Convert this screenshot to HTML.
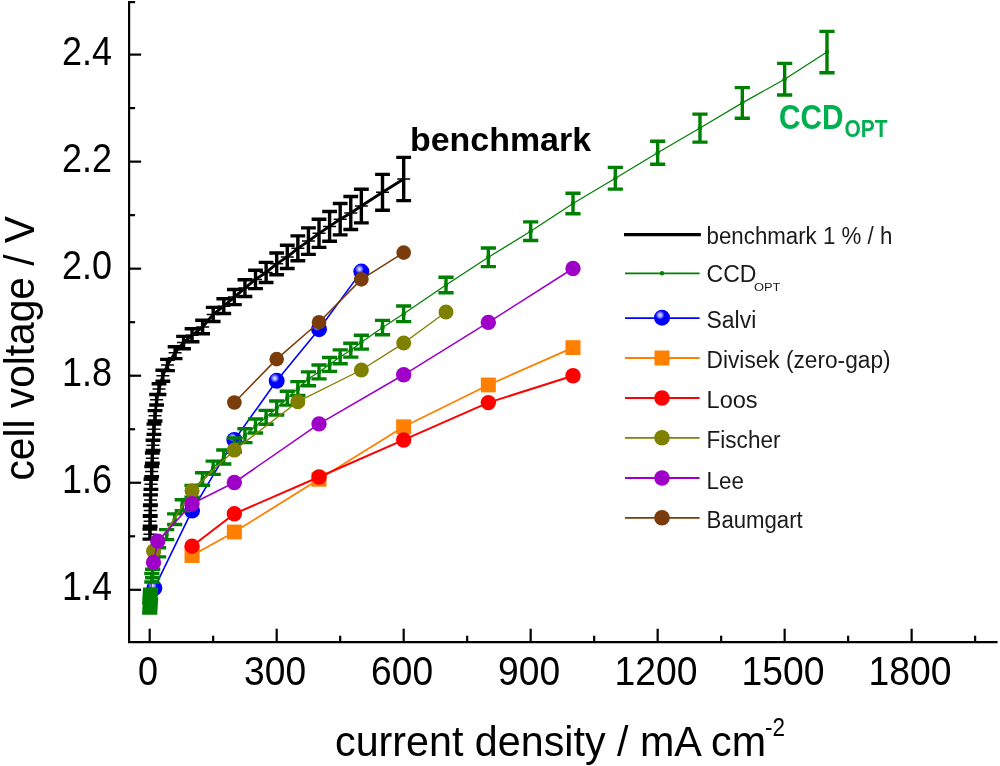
<!DOCTYPE html>
<html><head><meta charset="utf-8"><title>cell voltage vs current density</title>
<style>html,body{margin:0;padding:0;background:#fff;}svg{display:block;}</style></head>
<body><svg width="1000" height="766" viewBox="0 0 1000 766">
<defs><radialGradient id="sph" cx="0.38" cy="0.34" r="0.62"><stop offset="0" stop-color="#f0f0ff"/><stop offset="0.22" stop-color="#9090ff"/><stop offset="0.45" stop-color="#0000ff"/><stop offset="1" stop-color="#0000ff"/></radialGradient></defs>
<rect width="1000" height="766" fill="#fff"/>
<g stroke="#000" stroke-width="2.2" fill="none" stroke-linecap="square">
<path d="M129.1 2.2 V642.2 H996.5"/>
<path d="M129.1 589.80 h12" stroke-linecap="butt"/>
<path d="M129.1 536.28 h6" stroke-linecap="butt"/>
<path d="M129.1 482.76 h12" stroke-linecap="butt"/>
<path d="M129.1 429.24 h6" stroke-linecap="butt"/>
<path d="M129.1 375.72 h12" stroke-linecap="butt"/>
<path d="M129.1 322.20 h6" stroke-linecap="butt"/>
<path d="M129.1 268.68 h12" stroke-linecap="butt"/>
<path d="M129.1 215.16 h6" stroke-linecap="butt"/>
<path d="M129.1 161.64 h12" stroke-linecap="butt"/>
<path d="M129.1 108.12 h6" stroke-linecap="butt"/>
<path d="M129.1 54.60 h12" stroke-linecap="butt"/>
<path d="M129.1 2.10 h6" stroke-linecap="butt"/>
<path d="M149.70 642.2 v-13.5" stroke-linecap="butt"/>
<path d="M213.19 642.2 v-6.5" stroke-linecap="butt"/>
<path d="M276.69 642.2 v-13.5" stroke-linecap="butt"/>
<path d="M340.19 642.2 v-6.5" stroke-linecap="butt"/>
<path d="M403.68 642.2 v-13.5" stroke-linecap="butt"/>
<path d="M467.18 642.2 v-6.5" stroke-linecap="butt"/>
<path d="M530.67 642.2 v-13.5" stroke-linecap="butt"/>
<path d="M594.16 642.2 v-6.5" stroke-linecap="butt"/>
<path d="M657.66 642.2 v-13.5" stroke-linecap="butt"/>
<path d="M721.15 642.2 v-6.5" stroke-linecap="butt"/>
<path d="M784.65 642.2 v-13.5" stroke-linecap="butt"/>
<path d="M848.14 642.2 v-6.5" stroke-linecap="butt"/>
<path d="M911.64 642.2 v-13.5" stroke-linecap="butt"/>
<path d="M975.13 642.2 v-6.5" stroke-linecap="butt"/>
</g>
<g font-family="'Liberation Sans', Arial, sans-serif" font-size="40" fill="#000">
<text x="112" y="600.10" text-anchor="end" textLength="50" lengthAdjust="spacingAndGlyphs">1.4</text>
<text x="112" y="493.06" text-anchor="end" textLength="50" lengthAdjust="spacingAndGlyphs">1.6</text>
<text x="112" y="386.02" text-anchor="end" textLength="50" lengthAdjust="spacingAndGlyphs">1.8</text>
<text x="112" y="278.98" text-anchor="end" textLength="50" lengthAdjust="spacingAndGlyphs">2.0</text>
<text x="112" y="171.94" text-anchor="end" textLength="50" lengthAdjust="spacingAndGlyphs">2.2</text>
<text x="112" y="64.90" text-anchor="end" textLength="50" lengthAdjust="spacingAndGlyphs">2.4</text>
<text x="148.10" y="684.5" text-anchor="middle" textLength="20" lengthAdjust="spacingAndGlyphs">0</text>
<text x="275.09" y="684.5" text-anchor="middle" textLength="62" lengthAdjust="spacingAndGlyphs">300</text>
<text x="402.08" y="684.5" text-anchor="middle" textLength="62" lengthAdjust="spacingAndGlyphs">600</text>
<text x="529.07" y="684.5" text-anchor="middle" textLength="62" lengthAdjust="spacingAndGlyphs">900</text>
<text x="656.06" y="684.5" text-anchor="middle" textLength="83" lengthAdjust="spacingAndGlyphs">1200</text>
<text x="783.05" y="684.5" text-anchor="middle" textLength="83" lengthAdjust="spacingAndGlyphs">1500</text>
<text x="910.04" y="684.5" text-anchor="middle" textLength="83" lengthAdjust="spacingAndGlyphs">1800</text>
</g>
<text font-family="'Liberation Sans', Arial, sans-serif" font-size="42" fill="#000" transform="translate(34.2 480.5) rotate(-90)" textLength="264.5" lengthAdjust="spacingAndGlyphs">cell voltage / V</text>
<text font-family="'Liberation Sans', Arial, sans-serif" font-size="42.5" fill="#000" x="335" y="756.3" textLength="431" lengthAdjust="spacingAndGlyphs">current density / mA cm</text>
<text font-family="'Liberation Sans', Arial, sans-serif" font-size="25" fill="#000" x="765" y="735.5" textLength="20" lengthAdjust="spacingAndGlyphs">-2</text>
<path d="M149.91 534.14 L150.12 521.29 L150.29 510.59 L150.50 499.89 L150.97 484.37 L151.69 471.52 L152.32 458.14 L153.00 445.30 L153.93 429.24 L155.03 415.86 L156.60 399.80 L159.01 389.10 L162.82 375.72 L167.48 365.02 L175.10 352.71 L183.56 342.54 L192.03 335.31 L202.61 327.02 L213.19 314.39 L223.78 306.14 L234.36 297.05 L244.94 288.11 L255.52 279.38 L266.11 272.43 L276.69 263.86 L287.27 256.91 L297.86 248.34 L308.44 241.12 L319.02 233.36 L329.60 226.40 L340.19 219.17 L350.77 213.02 L361.35 206.06 L382.51 192.31 L403.68 178.98" fill="none" stroke="#000" stroke-width="2.9" stroke-linejoin="round"/>
<path d="M149.91 529.13V539.15M142.51 529.13H157.31M142.51 539.15H157.31M150.12 516.28V526.31M142.72 516.28H157.52M142.72 526.31H157.52M150.29 505.57V515.61M142.89 505.57H157.69M142.89 515.61H157.69M150.50 494.86V504.91M143.10 494.86H157.90M143.10 504.91H157.90M150.97 479.32V489.41M143.57 479.32H158.37M143.57 489.41H158.37M151.69 466.45V476.59M144.29 466.45H159.09M144.29 476.59H159.09M152.32 453.05V463.23M144.92 453.05H159.72M144.92 463.23H159.72M153.00 440.18V450.41M145.60 440.18H160.40M145.60 450.41H160.40M153.93 424.09V434.39M146.53 424.09H161.33M146.53 434.39H161.33M155.03 410.67V421.05M147.63 410.67H162.43M147.63 421.05H162.43M156.60 394.56V405.05M149.20 394.56H164.00M149.20 405.05H164.00M159.01 383.77V394.43M151.61 383.77H166.41M151.61 394.43H166.41M162.82 370.25V381.18M155.42 370.25H170.22M155.42 381.18H170.22M167.48 359.39V370.65M160.08 359.39H174.88M160.08 370.65H174.88M175.10 346.81V358.61M167.70 346.81H182.50M167.70 358.61H182.50M183.56 336.34V348.74M176.16 336.34H190.96M176.16 348.74H190.96M192.03 328.81V341.81M184.63 328.81H199.43M184.63 341.81H199.43M202.61 320.24V333.79M195.21 320.24H210.01M195.21 333.79H210.01M213.19 307.34V321.44M205.79 307.34H220.59M205.79 321.44H220.59M223.78 298.82V313.47M216.38 298.82H231.18M216.38 313.47H231.18M234.36 289.45V304.65M226.96 289.45H241.76M226.96 304.65H241.76M244.94 279.71V296.51M237.54 279.71H252.34M237.54 296.51H252.34M255.52 270.18V288.58M248.12 270.18H262.92M248.12 288.58H262.92M266.11 262.42V282.44M258.71 262.42H273.51M258.71 282.44H273.51M276.69 253.04V274.69M269.29 253.04H284.09M269.29 274.69H284.09M287.27 245.27V268.54M279.87 245.27H294.67M279.87 268.54H294.67M297.86 235.90V260.79M290.46 235.90H305.25M290.46 260.79H305.25M308.44 227.86V254.37M301.04 227.86H315.84M301.04 254.37H315.84M319.02 219.29V247.42M311.62 219.29H326.42M311.62 247.42H326.42M329.60 211.52V241.28M322.20 211.52H337.00M322.20 241.28H337.00M340.19 203.49V234.86M332.79 203.49H347.58M332.79 234.86H347.58M350.77 196.52V229.52M343.37 196.52H358.17M343.37 229.52H358.17M361.35 189.26V222.86M353.95 189.26H368.75M353.95 222.86H368.75M382.51 174.36V210.26M375.12 174.36H389.91M375.12 210.26H389.91M403.68 157.33V200.63M396.28 157.33H411.08M396.28 200.63H411.08" fill="none" stroke="#000" stroke-width="3.4"/>
<path d="M143.41 534.14h13M143.62 521.29h13M143.79 510.59h13M144.00 499.89h13M144.47 484.37h13M145.19 471.52h13M145.82 458.14h13M146.50 445.30h13M147.43 429.24h13M148.53 415.86h13M150.10 399.80h13M152.51 389.10h13M156.32 375.72h13M160.98 365.02h13M168.60 352.71h13M177.06 342.54h13M185.53 335.31h13M196.11 327.02h13M206.69 314.39h13M217.28 306.14h13M227.86 297.05h13M238.44 288.11h13M249.02 279.38h13M259.61 272.43h13M270.19 263.86h13M280.77 256.91h13M291.36 248.34h13M301.94 241.12h13M312.52 233.36h13M323.10 226.40h13M333.69 219.17h13M344.27 213.02h13M354.85 206.06h13M376.01 192.31h13M397.18 178.98h13" stroke="#000" stroke-width="1.5"/>
<path d="M154.36 588.19 L192.03 510.59 L234.36 439.94 L276.69 380.80 L319.02 329.16 L361.35 271.62" fill="none" stroke="#0000FF" stroke-width="1.6" stroke-linejoin="round"/>
<circle cx="154.36" cy="588.19" r="8.0" fill="url(#sph)"/><circle cx="192.03" cy="510.59" r="8.0" fill="url(#sph)"/><circle cx="234.36" cy="439.94" r="8.0" fill="url(#sph)"/><circle cx="276.69" cy="380.80" r="8.0" fill="url(#sph)"/><circle cx="319.02" cy="329.16" r="8.0" fill="url(#sph)"/><circle cx="361.35" cy="271.62" r="8.0" fill="url(#sph)"/>
<path d="M149.70 608.00 L149.87 605.32 L150.04 602.38 L150.21 599.43 L150.38 596.76 L150.55 594.08 L151.82 577.76 L152.66 573.48 L158.59 552.34 L166.63 534.67 L174.67 519.15 L182.29 505.24 L192.03 491.32 L202.61 479.01 L213.19 467.77 L223.78 457.07 L234.36 445.03 L244.94 435.66 L255.52 426.03 L266.11 417.31 L276.69 407.99 L287.27 398.20 L297.86 388.56 L308.44 378.77 L319.02 371.97 L329.60 364.43 L340.19 356.77 L350.77 350.19 L361.35 342.22 L382.51 327.55 L403.68 313.80 L446.01 285.00 L488.34 257.28 L530.67 231.22 L573.00 203.49 L615.33 178.23 L657.66 152.81 L699.99 128.08 L742.32 102.88 L784.65 79.22 L826.98 52.03" fill="none" stroke="#008000" stroke-width="1.25" stroke-linejoin="round"/>
<path d="M149.70 603.00V613.00M142.10 603.00H157.30M142.10 613.00H157.30M149.87 600.32V610.32M142.27 600.32H157.47M142.27 610.32H157.47M150.04 597.38V607.38M142.44 597.38H157.64M142.44 607.38H157.64M150.21 594.43V604.43M142.61 594.43H157.81M142.61 604.43H157.81M150.38 591.76V601.76M142.78 591.76H157.98M142.78 601.76H157.98M150.55 589.08V599.08M142.95 589.08H158.15M142.95 599.08H158.15M151.82 573.56V581.96M144.22 573.56H159.42M144.22 581.96H159.42M152.66 569.28V577.68M145.06 569.28H160.26M145.06 577.68H160.26M158.59 547.81V556.86M150.99 547.81H166.19M150.99 556.86H166.19M166.63 529.67V539.67M159.03 529.67H174.23M159.03 539.67H174.23M174.67 513.87V524.44M167.07 513.87H182.27M167.07 524.44H182.27M182.29 499.69V510.79M174.69 499.69H189.89M174.69 510.79H189.89M192.03 485.43V497.21M184.43 485.43H199.63M184.43 497.21H199.63M202.61 472.75V485.27M195.01 472.75H210.21M195.01 485.27H210.21M213.19 461.14V474.40M205.59 461.14H220.79M205.59 474.40H220.79M223.78 450.07V464.07M216.18 450.07H231.38M216.18 464.07H231.38M234.36 438.04V452.02M226.76 438.04H241.96M226.76 452.02H241.96M244.94 428.68V442.65M237.34 428.68H252.54M237.34 442.65H252.54M255.52 419.05V433.01M247.92 419.05H263.12M247.92 433.01H263.12M266.11 410.34V424.27M258.51 410.34H273.71M258.51 424.27H273.71M276.69 401.03V414.95M269.09 401.03H284.29M269.09 414.95H284.29M287.27 391.24V405.15M279.67 391.24H294.87M279.67 405.15H294.87M297.86 381.62V395.51M290.25 381.62H305.46M290.25 395.51H305.46M308.44 371.83V385.71M300.84 371.83H316.04M300.84 385.71H316.04M319.02 365.04V378.90M311.42 365.04H326.62M311.42 378.90H326.62M329.60 357.50V371.35M322.00 357.50H337.20M322.00 371.35H337.20M340.19 349.86V363.69M332.58 349.86H347.79M332.58 363.69H347.79M350.77 343.28V357.10M343.17 343.28H358.37M343.17 357.10H358.37M361.35 335.32V349.12M353.75 335.32H368.95M353.75 349.12H368.95M382.51 320.35V334.75M374.91 320.35H390.12M374.91 334.75H390.12M403.68 306.00V321.60M396.08 306.00H411.28M396.08 321.60H411.28M446.01 277.20V292.80M438.41 277.20H453.61M438.41 292.80H453.61M488.34 247.98V266.58M480.74 247.98H495.94M480.74 266.58H495.94M530.67 221.92V240.52M523.07 221.92H538.27M523.07 240.52H538.27M573.00 193.29V213.69M565.40 193.29H580.60M565.40 213.69H580.60M615.33 167.33V189.13M607.73 167.33H622.93M607.73 189.13H622.93M657.66 141.31V164.31M650.06 141.31H665.26M650.06 164.31H665.26M699.99 114.08V142.08M692.39 114.08H707.59M692.39 142.08H707.59M742.32 87.58V118.18M734.72 87.58H749.92M734.72 118.18H749.92M784.65 63.37V95.07M777.05 63.37H792.25M777.05 95.07H792.25M826.98 31.33V72.73M819.38 31.33H834.58M819.38 72.73H834.58" fill="none" stroke="#008000" stroke-width="3.4"/>
<circle cx="149.70" cy="608.00" r="2.2" fill="#008000"/><circle cx="149.87" cy="605.32" r="2.2" fill="#008000"/><circle cx="150.04" cy="602.38" r="2.2" fill="#008000"/><circle cx="150.21" cy="599.43" r="2.2" fill="#008000"/><circle cx="150.38" cy="596.76" r="2.2" fill="#008000"/><circle cx="150.55" cy="594.08" r="2.2" fill="#008000"/><circle cx="151.82" cy="577.76" r="2.2" fill="#008000"/><circle cx="152.66" cy="573.48" r="2.2" fill="#008000"/><circle cx="158.59" cy="552.34" r="2.2" fill="#008000"/><circle cx="166.63" cy="534.67" r="2.2" fill="#008000"/><circle cx="174.67" cy="519.15" r="2.2" fill="#008000"/><circle cx="182.29" cy="505.24" r="2.2" fill="#008000"/><circle cx="192.03" cy="491.32" r="2.2" fill="#008000"/><circle cx="202.61" cy="479.01" r="2.2" fill="#008000"/><circle cx="213.19" cy="467.77" r="2.2" fill="#008000"/><circle cx="223.78" cy="457.07" r="2.2" fill="#008000"/><circle cx="234.36" cy="445.03" r="2.2" fill="#008000"/><circle cx="244.94" cy="435.66" r="2.2" fill="#008000"/><circle cx="255.52" cy="426.03" r="2.2" fill="#008000"/><circle cx="266.11" cy="417.31" r="2.2" fill="#008000"/><circle cx="276.69" cy="407.99" r="2.2" fill="#008000"/><circle cx="287.27" cy="398.20" r="2.2" fill="#008000"/><circle cx="297.86" cy="388.56" r="2.2" fill="#008000"/><circle cx="308.44" cy="378.77" r="2.2" fill="#008000"/><circle cx="319.02" cy="371.97" r="2.2" fill="#008000"/><circle cx="329.60" cy="364.43" r="2.2" fill="#008000"/><circle cx="340.19" cy="356.77" r="2.2" fill="#008000"/><circle cx="350.77" cy="350.19" r="2.2" fill="#008000"/><circle cx="361.35" cy="342.22" r="2.2" fill="#008000"/><circle cx="382.51" cy="327.55" r="2.2" fill="#008000"/><circle cx="403.68" cy="313.80" r="2.2" fill="#008000"/><circle cx="446.01" cy="285.00" r="2.2" fill="#008000"/><circle cx="488.34" cy="257.28" r="2.2" fill="#008000"/><circle cx="530.67" cy="231.22" r="2.2" fill="#008000"/><circle cx="573.00" cy="203.49" r="2.2" fill="#008000"/><circle cx="615.33" cy="178.23" r="2.2" fill="#008000"/><circle cx="657.66" cy="152.81" r="2.2" fill="#008000"/><circle cx="699.99" cy="128.08" r="2.2" fill="#008000"/><circle cx="742.32" cy="102.88" r="2.2" fill="#008000"/><circle cx="784.65" cy="79.22" r="2.2" fill="#008000"/><circle cx="826.98" cy="52.03" r="2.2" fill="#008000"/>
<path d="M192.03 555.55 L234.36 532.00 L319.02 479.28 L403.68 426.78 L488.34 384.98 L573.00 347.62" fill="none" stroke="#FF8000" stroke-width="1.8" stroke-linejoin="round"/>
<rect x="184.53" y="548.15" width="15" height="14.8" fill="#FF8000"/><rect x="226.86" y="524.60" width="15" height="14.8" fill="#FF8000"/><rect x="311.52" y="471.88" width="15" height="14.8" fill="#FF8000"/><rect x="396.18" y="419.38" width="15" height="14.8" fill="#FF8000"/><rect x="480.84" y="377.58" width="15" height="14.8" fill="#FF8000"/><rect x="565.50" y="340.22" width="15" height="14.8" fill="#FF8000"/>
<path d="M192.03 546.18 L234.36 513.80 L319.02 476.98 L403.68 439.94 L488.34 402.59 L573.00 375.72" fill="none" stroke="#FF0000" stroke-width="2.0" stroke-linejoin="round"/>
<circle cx="192.03" cy="546.18" r="7.7" fill="#FF0000"/><circle cx="234.36" cy="513.80" r="7.7" fill="#FF0000"/><circle cx="319.02" cy="476.98" r="7.7" fill="#FF0000"/><circle cx="403.68" cy="439.94" r="7.7" fill="#FF0000"/><circle cx="488.34" cy="402.59" r="7.7" fill="#FF0000"/><circle cx="573.00" cy="375.72" r="7.7" fill="#FF0000"/>
<path d="M153.51 551.00 L192.03 490.79 L234.36 450.11 L297.86 401.68 L361.35 369.99 L403.68 343.07 L446.01 312.03" fill="none" stroke="#808000" stroke-width="1.35" stroke-linejoin="round"/>
<circle cx="153.51" cy="551.00" r="7.5" fill="#808000"/><circle cx="192.03" cy="490.79" r="7.5" fill="#808000"/><circle cx="234.36" cy="450.11" r="7.5" fill="#808000"/><circle cx="297.86" cy="401.68" r="7.5" fill="#808000"/><circle cx="361.35" cy="369.99" r="7.5" fill="#808000"/><circle cx="403.68" cy="343.07" r="7.5" fill="#808000"/><circle cx="446.01" cy="312.03" r="7.5" fill="#808000"/>
<path d="M153.51 562.50 L157.74 541.10 L192.03 503.79 L234.36 482.49 L319.02 423.89 L403.68 374.81 L488.34 322.41 L573.00 268.52" fill="none" stroke="#9E00C8" stroke-width="1.6" stroke-linejoin="round"/>
<circle cx="153.51" cy="562.50" r="7.7" fill="#9E00C8"/><circle cx="157.74" cy="541.10" r="7.7" fill="#9E00C8"/><circle cx="192.03" cy="503.79" r="7.7" fill="#9E00C8"/><circle cx="234.36" cy="482.49" r="7.7" fill="#9E00C8"/><circle cx="319.02" cy="423.89" r="7.7" fill="#9E00C8"/><circle cx="403.68" cy="374.81" r="7.7" fill="#9E00C8"/><circle cx="488.34" cy="322.41" r="7.7" fill="#9E00C8"/><circle cx="573.00" cy="268.52" r="7.7" fill="#9E00C8"/>
<path d="M234.36 402.48 L276.69 359.13 L319.02 322.20 L361.35 279.38 L403.68 252.62" fill="none" stroke="#7A3C0A" stroke-width="1.5" stroke-linejoin="round"/>
<circle cx="234.36" cy="402.48" r="7.3" fill="#7A3C0A"/><circle cx="276.69" cy="359.13" r="7.3" fill="#7A3C0A"/><circle cx="319.02" cy="322.20" r="7.3" fill="#7A3C0A"/><circle cx="361.35" cy="279.38" r="7.3" fill="#7A3C0A"/><circle cx="403.68" cy="252.62" r="7.3" fill="#7A3C0A"/>
<text font-family="'Liberation Sans', Arial, sans-serif" font-weight="bold" font-size="34" fill="#000" x="410" y="151" textLength="181" lengthAdjust="spacingAndGlyphs">benchmark</text>
<text font-family="'Liberation Sans', Arial, sans-serif" font-weight="bold" font-size="35" fill="#00B050" x="779" y="129" textLength="64.5" lengthAdjust="spacingAndGlyphs">CCD</text>
<text font-family="'Liberation Sans', Arial, sans-serif" font-weight="bold" font-size="23.5" fill="#00B050" x="844.5" y="136.6" textLength="43" lengthAdjust="spacingAndGlyphs">OPT</text>
<path d="M624 234.6H700.9" stroke="#000" stroke-width="3.3"/>
<path d="M625 273.3H699.6" stroke="#008000" stroke-width="1.8"/><circle cx="662" cy="273.3" r="2.2" fill="#008000"/>
<path d="M625 318.2H699.6" stroke="#0000FF" stroke-width="1.8"/><circle cx="662" cy="317.7" r="8" fill="url(#sph)"/>
<path d="M625 358.0H699.6" stroke="#FF8000" stroke-width="1.8"/><rect x="654.5" y="350.5" width="15" height="15" fill="#FF8000"/>
<path d="M625 398.0H699.6" stroke="#FF0000" stroke-width="1.8"/><circle cx="662" cy="398.0" r="7.8" fill="#FF0000"/>
<path d="M625 437.8H699.6" stroke="#808000" stroke-width="1.8"/><circle cx="662" cy="437.8" r="7.8" fill="#808000"/>
<path d="M625 478.0H699.6" stroke="#9E00C8" stroke-width="1.8"/><circle cx="662" cy="478.0" r="7.8" fill="#9E00C8"/>
<path d="M625 517.8H699.6" stroke="#7A3C0A" stroke-width="1.8"/><circle cx="662" cy="517.8" r="7.8" fill="#7A3C0A"/>
<g font-family="'Liberation Sans', Arial, sans-serif" font-size="23" fill="#1a1a1a">
<text x="706.6" y="243.7" textLength="185.68" lengthAdjust="spacingAndGlyphs">benchmark 1 % / h</text>
<text x="706.6" y="282.4">CCD</text>
<text x="706.6" y="328.0" textLength="49.65" lengthAdjust="spacingAndGlyphs">Salvi</text>
<text x="706.6" y="368.0" textLength="183.96" lengthAdjust="spacingAndGlyphs">Divisek (zero-gap)</text>
<text x="706.6" y="408.2" textLength="51.04" lengthAdjust="spacingAndGlyphs">Loos</text>
<text x="706.6" y="448.0" textLength="73.86" lengthAdjust="spacingAndGlyphs">Fischer</text>
<text x="706.6" y="488.7" textLength="37.31" lengthAdjust="spacingAndGlyphs">Lee</text>
<text x="706.6" y="528.4" textLength="96.16" lengthAdjust="spacingAndGlyphs">Baumgart</text>
<text x="754" y="290.8" font-size="11" textLength="26.5" lengthAdjust="spacingAndGlyphs">OPT</text>
</g>
</svg></body></html>
